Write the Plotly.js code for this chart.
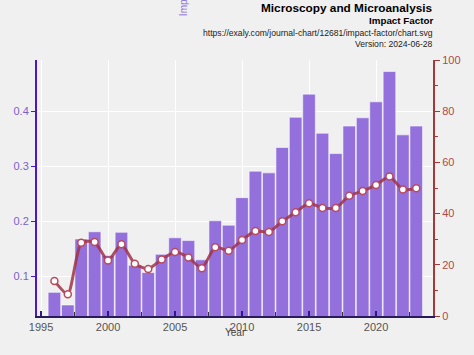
<!DOCTYPE html>
<html>
<head>
<meta charset="utf-8">
<script src="https://cdn.plot.ly/plotly-3.0.1.min.js"></script>
<style>html,body{margin:0;padding:0;background:#f0f0f0;}#chart{width:474px;height:355px;}</style>
</head>
<body>
<div id="chart"></div>
<script>
var years = [1996,1997,1998,1999,2000,2001,2002,2003,2004,2005,2006,2007,2008,2009,2010,2011,2012,2013,2014,2015,2016,2017,2018,2019,2020,2021,2022,2023];
var impactFactor = [0.071,0.048,0.168,0.181,0.138,0.180,0.120,0.107,0.140,0.170,0.165,0.130,0.201,0.193,0.243,0.291,0.288,0.334,0.389,0.431,0.360,0.323,0.373,0.388,0.417,0.472,0.357,0.373];
var percentile = [13.7,8.5,28.6,28.9,21.7,28.0,20.4,18.4,22.1,25.0,22.9,18.7,26.9,25.5,29.7,33.2,32.8,37.0,40.5,44.0,42.2,42.2,47.0,48.8,51.2,54.5,49.4,49.9];
var leftTicks = [0.1,0.2,0.3,0.4];
var rightTicks = [0,20,40,60,80,100];
var xTicks = [1995,2000,2005,2010,2015,2020];

var font = "Liberation Sans, Arial, sans-serif";

var traces = [
  {
    type: 'bar', x: years, y: impactFactor, yaxis: 'y',
    marker: {color: '#9370db', line: {color: 'rgba(255,255,255,0.55)', width: 1}},
    hoverinfo: 'none'
  },
  {
    type: 'scatter', mode: 'lines+markers', x: years, y: percentile, yaxis: 'y2',
    line: {color: 'rgba(160,50,70,0.85)', width: 3, shape: 'spline', smoothing: 0.6},
    marker: {size: 7, color: '#ffffff', line: {color: '#b84a5e', width: 1.5}},
    hoverinfo: 'none'
  }
];

var layout = {
  width: 474, height: 355,
  paper_bgcolor: '#f0f0f0', plot_bgcolor: '#f0f0f0',
  margin: {l: 37, r: 41, t: 60, b: 39},
  showlegend: false,
  bargap: 0.06,
  font: {family: font, size: 10, color: '#555'},
  xaxis: {
    range: [1994.7, 2024.25], tickvals: xTicks, ticktext: xTicks.map(String),
    showgrid: true, gridcolor: '#ffffff', gridwidth: 1,
    showline: true, linecolor: '#2a1a5a', linewidth: 2,
    ticks: 'inside', ticklen: 5, tickcolor: '#2a1a8a', tickwidth: 1.5,
    minor: {dtick: 2.5, tick0: 1995, ticks: 'inside', ticklen: 4, tickcolor: '#333', showgrid: false},
    tickfont: {family: font, size: 11, color: '#555'},
    zeroline: false
  },
  yaxis: {
    range: [0.028, 0.493], tickvals: leftTicks, ticktext: leftTicks.map(String),
    showgrid: true, gridcolor: '#ffffff', gridwidth: 1,
    showline: true, linecolor: '#4b16d0', linewidth: 2,
    ticks: 'outside', ticklen: 4, tickcolor: '#4b16d0',
    tickfont: {family: font, size: 11, color: '#7a62c8'},
    zeroline: false
  },
  yaxis2: {
    overlaying: 'y', side: 'right',
    range: [0, 100], tickvals: rightTicks, ticktext: rightTicks.map(String),
    showgrid: false,
    showline: true, linecolor: '#a83838', linewidth: 2,
    ticks: 'outside', ticklen: 5, tickcolor: '#a83838',
    minor: {dtick: 10, tick0: 0, ticks: 'outside', ticklen: 3, tickcolor: '#a83838'},
    tickfont: {family: font, size: 11, color: '#b04848'},
    zeroline: false
  },
  annotations: [
    {text: '<b>Microscopy and Microanalysis</b>', xref: 'paper', yref: 'paper', x: 1.006, y: 1.203, xanchor: 'right', yanchor: 'middle', showarrow: false, font: {family: font, size: 11.8, color: '#000'}},
    {text: '<b>Impact Factor</b>', xref: 'paper', yref: 'paper', x: 1.006, y: 1.156, xanchor: 'right', yanchor: 'middle', showarrow: false, font: {family: font, size: 9.8, color: '#000'}},
    {text: 'https://exaly.com/journal-chart/12681/impact-factor/chart.svg', xref: 'paper', yref: 'paper', x: 1.006, y: 1.105, xanchor: 'right', yanchor: 'middle', showarrow: false, font: {family: font, size: 8.6, color: '#222'}},
    {text: 'Version: 2024-06-28', xref: 'paper', yref: 'paper', x: 1.006, y: 1.0625, xanchor: 'right', yanchor: 'middle', showarrow: false, font: {family: font, size: 8.6, color: '#222'}},
    {text: 'Impact Factor', xref: 'paper', yref: 'paper', x: 0.369, y: 1.164, xanchor: 'center', yanchor: 'bottom', textangle: -90, showarrow: false, font: {family: font, size: 10, color: '#8a70d8'}},
    {text: 'Year', xref: 'paper', yref: 'paper', x: 0.5, y: -0.066, xanchor: 'center', yanchor: 'middle', showarrow: false, font: {family: font, size: 10, color: '#444'}}
  ]
};

Plotly.newPlot('chart', traces, layout, {staticPlot: true, displayModeBar: false});
</script>
</body>
</html>
